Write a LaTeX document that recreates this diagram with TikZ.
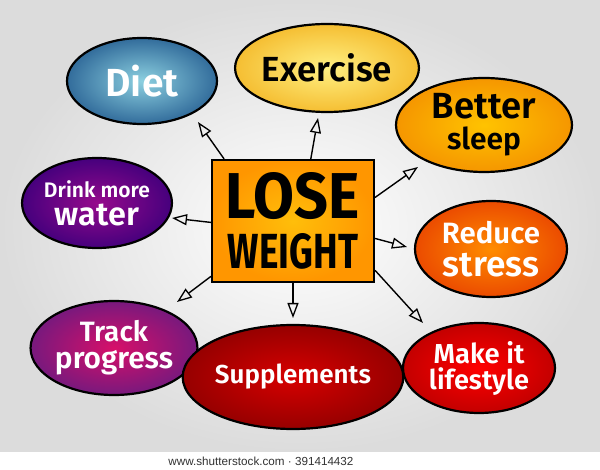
\documentclass[tikz,border=0pt]{standalone}
\usepackage{fontspec}
\setmainfont{Fira Sans}[BoldFont={Fira Sans SemiBold}]
\newfontfamily\heavyfont{Fira Sans}[UprightFont={* Bold}]
\newfontfamily\footfont{Liberation Sans}
\usetikzlibrary{shapes.geometric,arrows.meta}
\definecolor{dietIn}{RGB}{140,208,224}
\definecolor{dietOut}{RGB}{50,108,155}
\definecolor{exIn}{RGB}{255,240,130}
\definecolor{exOut}{RGB}{245,190,50}
\definecolor{slIn}{RGB}{255,195,0}
\definecolor{slOut}{RGB}{245,150,0}
\definecolor{wtIn}{RGB}{150,10,140}
\definecolor{wtOut}{RGB}{70,0,125}
\definecolor{stIn}{RGB}{255,140,0}
\definecolor{stOut}{RGB}{235,75,0}
\definecolor{trIn}{RGB}{215,15,105}
\definecolor{trOut}{RGB}{120,25,125}
\definecolor{suIn}{RGB}{215,0,0}
\definecolor{suOut}{RGB}{150,0,0}
\definecolor{lfIn}{RGB}{255,0,0}
\definecolor{lfOut}{RGB}{195,0,0}
\definecolor{loIn}{RGB}{255,190,10}
\definecolor{loOut}{RGB}{255,150,0}
\definecolor{bgOut}{RGB}{220,220,220}
\definecolor{footText}{RGB}{50,50,50}
\newcommand\fw[2]{\resizebox{#1pt}{!}{#2}}
\newcommand\fwh[3]{\resizebox{#1pt}{#2pt}{#3}}
\lineskiplimit=-100pt
\tikzset{
  bubble/.style={ellipse, draw=black, line width=2.2pt, inner sep=0pt, align=center},
  lsp/.style={font=\bfseries\fontsize{10}{#1}\selectfont},
  arr/.style={line width=1.4pt, -{Triangle[open, length=15pt, width=11pt, line width=1.3pt]}},
}
\begin{document}
\begin{tikzpicture}[x=1pt,y=-1pt]
\useasboundingbox (0,0) rectangle (600,470);
\shade[inner color=white, outer color=bgOut] (0,0) rectangle (600,452);
\fill[white] (0,452) rectangle (600,470);

\node[bubble, inner color=dietIn, outer color=dietOut, minimum width=150pt, minimum height=86pt, text=white, lsp=24] (diet) at (142,81) {\fw{73}{Diet}};
\node[bubble, inner color=exIn, outer color=exOut, minimum width=166pt, minimum height=88pt, text=black, lsp=24] (exercise) at (327,68) {\fw{130}{Exercise}};
\node[bubble, inner color=slIn, outer color=slOut, minimum width=176pt, minimum height=94pt, text=black, lsp=31] (sleep) at (484,125) {\fw{104}{Better}\\\fw{74}{sleep}};
\node[bubble, inner color=wtIn, outer color=wtOut, minimum width=138pt, minimum height=90pt, text=white, lsp=28] (water) at (97,203) {\fw{106}{Drink more}\\\fw{84}{water}};
\node[bubble, inner color=stIn, outer color=stOut, minimum width=152pt, minimum height=96pt, text=white, lsp=33] (stress) at (491,249) {\fw{98}{Reduce}\\\fw{96}{stress}};
\node[bubble, inner color=trIn, outer color=trOut, minimum width=162pt, minimum height=94pt, text=white, lsp=27] (track) at (114,348) {\fw{68}{Track}\\\fw{118}{progress}};
\node[bubble, inner color=suIn, outer color=suOut, minimum width=184pt, minimum height=104pt, text=white, lsp=24] (supp) at (293,377) {\fw{156}{Supplements}};
\node[bubble, inner color=lfIn, outer color=lfOut, minimum width=152pt, minimum height=90pt, text=white, lsp=26] (life) at (479,368) {\fw{91}{Make it}\\\fw{100}{lifestyle}};

\node[rectangle, draw=black, line width=2pt, inner color=loIn, outer color=loOut, minimum width=162pt, minimum height=122pt, inner sep=0pt, align=center, font=\heavyfont\fontsize{10}{50}\selectfont, text=black] (lose) at (293,221) {\fwh{134}{46}{LOSE}\\\fwh{130}{35}{WEIGHT}};

\coordinate (tDiet) at (198,122);
\coordinate (tEx) at (318,118);
\coordinate (tSleep) at (418,167);
\coordinate (tWater) at (172,218);
\coordinate (tStress) at (407,247);
\coordinate (tTrack) at (177,302);
\coordinate (tSupp) at (293,318);
\coordinate (tLife) at (423,323);

\draw[arr] (lose.138) -- (tDiet);
\draw[arr] (lose.74) -- (tEx);
\draw[arr] (lose.16) -- (tSleep);
\draw[arr] (lose.181) -- (tWater);
\draw[arr] (lose.-12) -- (tStress);
\draw[arr] (lose.214) -- (tTrack);
\draw[arr] (lose.south) -- (tSupp);
\draw[arr] (lose.-31) -- (tLife);

\node[text=footText, inner sep=0pt, font=\footfont] (foot) at (261,461) {\fw{185}{www.shutterstock.com · 391414432}};
\end{tikzpicture}
\end{document}
